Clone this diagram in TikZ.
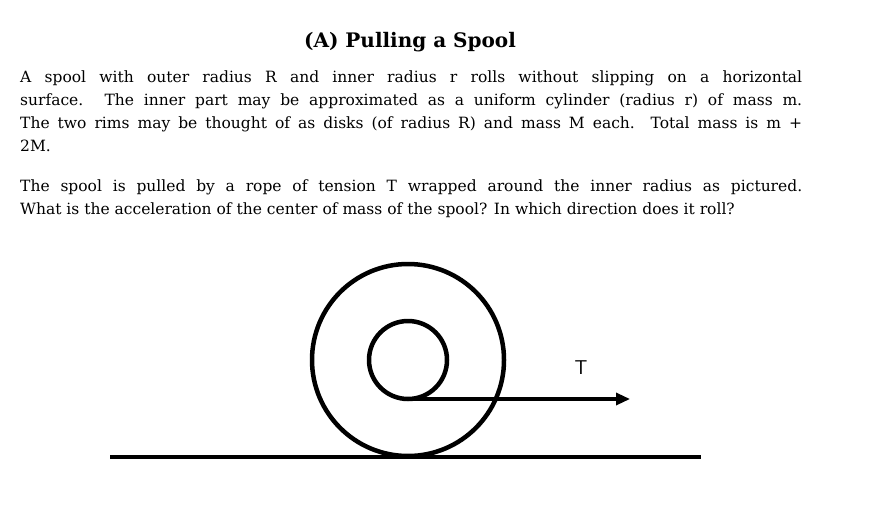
\documentclass[tikz,border=0pt]{standalone}
\usepackage{fontspec}
\setmainfont{DejaVu Serif}
\usetikzlibrary{arrows.meta}
\begin{document}
\begin{tikzpicture}[x=1pt,y=-1pt,
  body/.style={anchor=north west,inner sep=0pt,text width=782pt,align=justify,font=\fontsize{15.5}{23}\selectfont},
  thick4/.style={line width=4.5pt}]
\useasboundingbox (0,0) rectangle (874,516);
\node[font=\fontsize{20}{24}\selectfont\bfseries] (title) at (410,42) {(A) Pulling a Spool};
\node[body] (p1) at (20,71) {A spool with outer radius R and inner radius r rolls without slipping on a horizontal\linebreak surface. The inner part may be approximated as a uniform cylinder (radius r) of mass m.\linebreak The two rims may be thought of as disks (of radius R) and mass M each. Total mass is m +\linebreak 2M.};
\node[body] (p2) at (20,180) {The spool is pulled by a rope of tension T wrapped around the inner radius as pictured.\linebreak What is the acceleration of the center of mass of the spool? In which direction does it roll?};
\coordinate (c) at (408,360);
\draw[thick4] (c) circle[radius=96];
\draw[thick4] (c) circle[radius=39];
\coordinate (g1) at (110,457);
\coordinate (g2) at (701,457);
\draw[thick4] (g1) -- (g2);
\coordinate (r0) at (408,399);
\coordinate (r1) at (630,399);
\draw[line width=3.2pt,-{Triangle[length=14pt,width=12pt]}] (r0) -- (r1);
\node[font=\sffamily\fontsize{20}{20}\selectfont] (T) at (581,368) {T};
\end{tikzpicture}
\end{document}
